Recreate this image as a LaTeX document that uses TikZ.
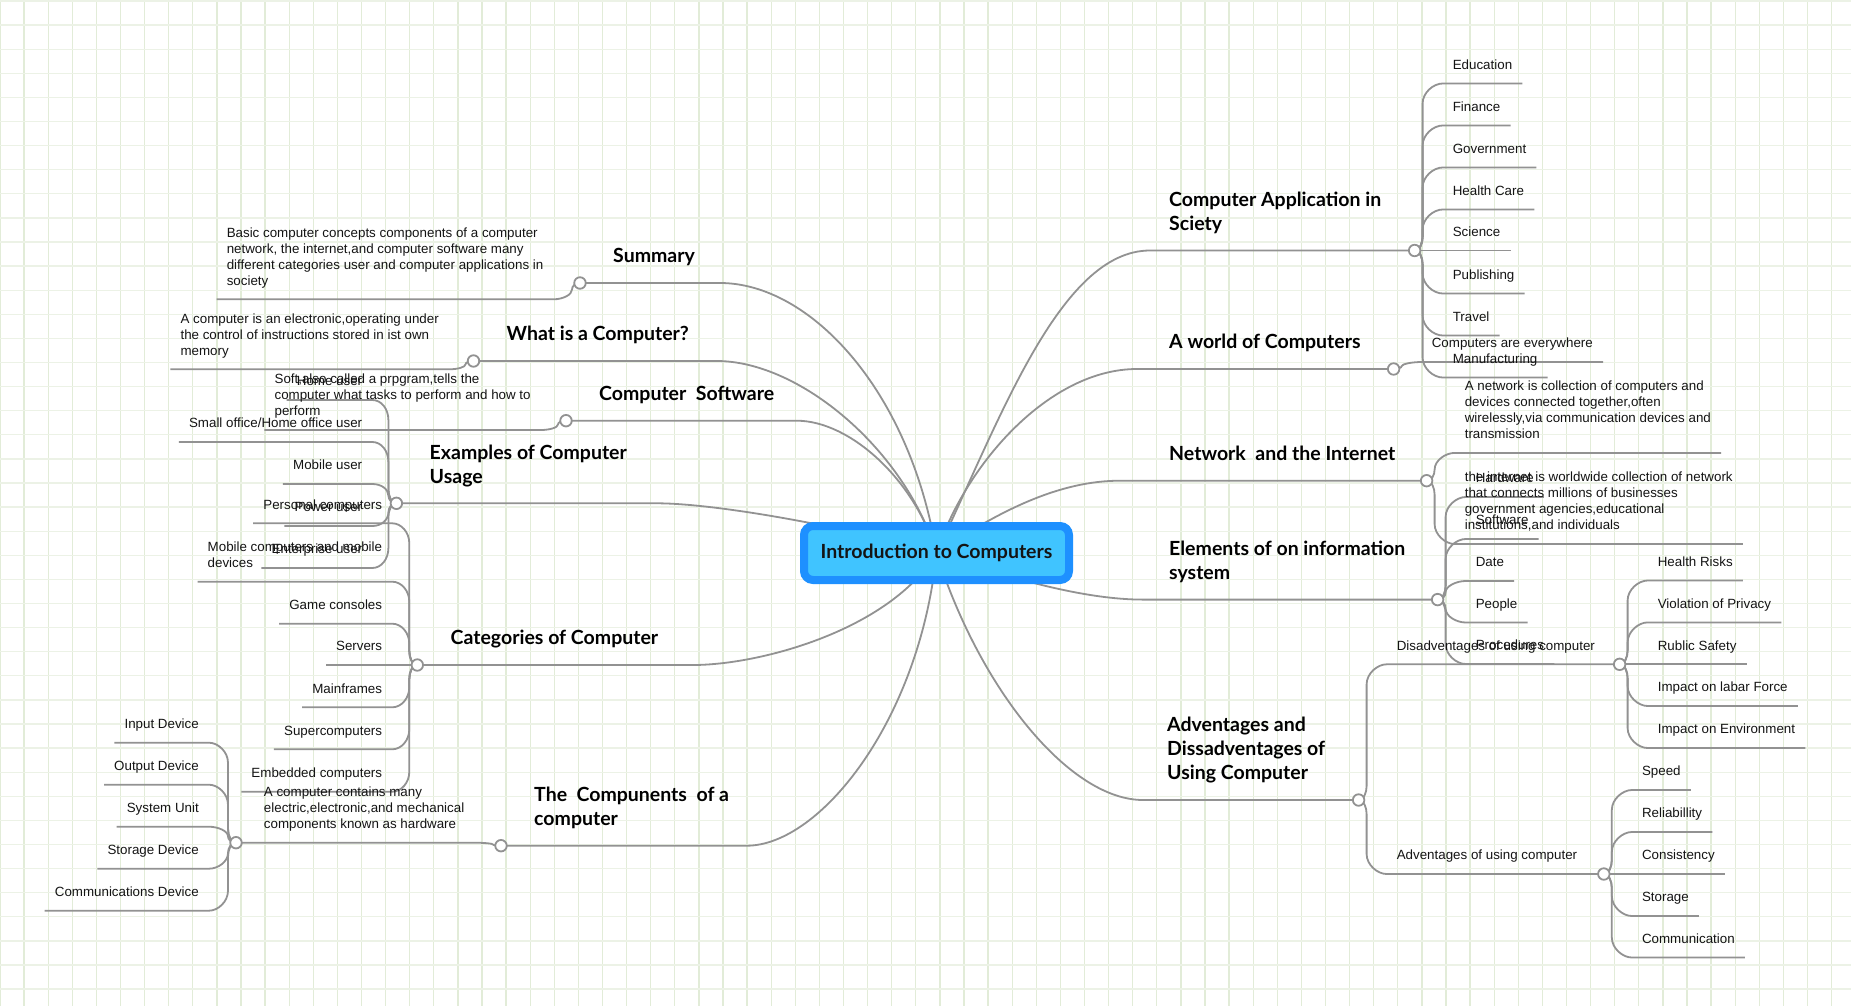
\documentclass[tikz,border=0pt]{standalone}
\usepackage{fontspec}
\setmainfont{Liberation Sans}
\newfontfamily\latofont{Lato}
\usetikzlibrary{calc}
\definecolor{LinkGray}{RGB}{146,146,146}
\definecolor{RootBorder}{RGB}{30,144,255}
\definecolor{RootFill}{RGB}{64,196,255}
\definecolor{GridV}{RGB}{226,236,216}
\definecolor{GridH}{RGB}{236,242,230}
\definecolor{TextDark}{RGB}{20,20,20}
\newcommand\leaffont{\fontsize{13.35}{16}\selectfont}
\newcommand\topicfont{\latofont\bfseries\fontsize{19.5}{24}\selectfont}
\pgfdeclarelayer{grid}
\pgfdeclarelayer{edges}
\pgfsetlayers{grid,edges,main}
\tikzset{
  gridv/.style={draw=GridV, line width=1.3pt},
  gridh/.style={draw=GridH, line width=1.3pt},
  link/.style={draw=LinkGray, line width=1.8pt},
  rootbox/.style={draw=RootBorder, fill=RootFill, line width=8pt, rounded corners=9pt,
                  minimum width=265pt, minimum height=54pt, font=\latofont\bfseries\fontsize{19.5}{24}\selectfont,
                  text=TextDark},
  topic/.style={font=\topicfont, text=black, align=left, anchor=south west,
                inner xsep=0pt, inner ysep=12.8pt, execute at end node=\strut},
  leaf/.style={font=\leaffont, text=TextDark, align=left,
               inner xsep=10pt, inner ysep=9.2pt, execute at end node=\strut},
  dot/.style={circle, draw=LinkGray, fill=white, line width=1.8pt, minimum size=11.5pt, inner sep=0pt},
  % elbow from a knot to the near end of an underline: short bend, trunk, rounded corner
  branch/.style={to path={
    let \p1=(\tikztostart), \p2=(\tikztotarget),
        \n1={ifthenelse((\y2)>(\y1),1,-1)},
        \n2={ifthenelse((\x2)>(\x1),1,-1)},
        \n3={min(14,0.4*abs((\y2)-(\y1)))},
        \n4={min(20,0.6*abs((\y2)-(\y1)))}
    in .. controls ({\x1+\n2*5},\y1) and ({\x1+\n2*8},{\y1+\n1*\n3*0.5}) .. ({\x1+\n2*8},{\y1+\n1*\n3})
       -- ({\x1+\n2*8},{\y2-\n1*\n4})
       .. controls ({\x1+\n2*8},{\y2-\n1*\n4*0.45}) and ({\x2-\n2*9},\y2) .. (\x2,\y2) \tikztonodes}},
}

\begin{document}
\begin{tikzpicture}[x=1pt, y=-1pt]

  % --- page and grid ----------------------------------------------------------
  \useasboundingbox (0,0) rectangle (1851,1006);
  \begin{pgfonlayer}{grid}
    \fill[white] (0,0) rectangle (1851,1006);
    \foreach \gx in {0,24.1,...,1851} \draw[gridv] (\gx,0) -- (\gx,1006);
    \foreach \gy in {1,25.1,...,1006} \draw[gridh] (0,\gy) -- (1851,\gy);
  \end{pgfonlayer}

  \node[rootbox] (root) at (936.5,553) {Introduction to Computers};

  % --- main topics, right side --------------------------------------------------
  \node[topic] (app)   at (1169,250.5) {Computer Application in\\Sciety};
  \node[topic] (world) at (1169,369)   {A world of Computers};
  \node[topic] (net)   at (1169,480.7) {Network\ \ and the Internet};
  \node[topic] (elem)  at (1169,599.6) {Elements of on information\\system};
  \node[topic] (adv)   at (1167,800)   {Adventages and\\Dissadventages of\\Using Computer};
  \node[dot] (appdot)   at (1414.6,250.5) {};
  \node[dot] (worlddot) at (1393.6,369) {};
  \node[dot] (netdot)   at (1426.6,480.7) {};
  \node[dot] (elemdot)  at (1437.6,599.6) {};
  \node[dot] (advdot)   at (1358.6,800) {};

  % --- main topics, left side ---------------------------------------------------
  \node[topic] (sum)   at (613,283)   {Summary};
  \node[topic] (what)  at (506.5,361) {What is a Computer?};
  \node[topic] (soft)  at (599,420.7) {Computer\ \ Software};
  \node[topic] (examp) at (429.5,503.3) {Examples of Computer\\Usage};
  \node[topic] (cat)   at (450.5,665) {Categories of Computer};
  \node[topic] (comp)  at (534,845.7) {The\ \ Compunents\ \ of a\\computer};
  \node[dot] (sumdot)   at (580,283) {};
  \node[dot] (whatdot)  at (473.5,361) {};
  \node[dot] (softdot)  at (566,420.7) {};
  \node[dot] (exampdot) at (396.4,503.3) {};
  \node[dot] (catdot)   at (417.3,665) {};
  \node[dot] (compdot)  at (501,845.7) {};

  \begin{pgfonlayer}{edges}
    \draw[link] (root.center) .. controls +(63.5,-133) and +(-90,0) .. (1150,250.5) -- (appdot.center);
    \draw[link] (root.center) .. controls +(29.5,-90) and +(-87,0) .. (1137,369) -- (worlddot.center);
    \draw[link] (root.center) .. controls +(63.5,-43) and +(-60,0) .. (1120,480.7) -- (netdot.center);
    \draw[link] (root.center) .. controls +(63.5,22) and +(-63,0) .. (1143,599.6) -- (elemdot.center);
    \draw[link] (root.center) .. controls +(43.5,137) and +(-73,0) .. (1143,800) -- (advdot.center);
    \draw[link] (root.center) .. controls +(-26.5,-163) and +(90,0) .. (720,283) -- (sumdot.center);
    \draw[link] (root.center) .. controls +(-31.5,-103) and +(83.3,0) .. (716.7,361) -- (whatdot.center);
    \draw[link] (root.center) .. controls +(-21.5,-73) and +(53.3,0) .. (796.7,420.7) -- (softdot.center);
    \draw[link] (root.center) .. controls +(-76.5,-23) and +(63.3,0) .. (656.7,503.3) -- (exampdot.center);
    \draw[link] (root.center) .. controls +(-46.5,77) and +(67,0) .. (693,665) -- (catdot.center);
    \draw[link] (root.center) .. controls +(-16.5,167) and +(73.3,0) .. (746.7,845.7) -- (compdot.center);
  \end{pgfonlayer}

  % --- Computer Application in Sciety -------------------------------------------
  \foreach \nm/\ly/\txt in {edu/83.5/Education, fin/125.5/Finance, gov/167.5/Government,
      hcare/209.5/Health Care, sci/250.5/Science, pub/293.5/Publishing, trav/335.5/Travel,
      manu/377.5/Manufacturing}{
    \node[leaf, anchor=south west] (\nm) at (1442.6,\ly) {\txt};
    \begin{pgfonlayer}{edges}
      \draw[link] (appdot.center) to[branch] (\nm.south west) -- (\nm.south east);
    \end{pgfonlayer}
  }

  % --- A world of Computers / Network and the Internet --------------------------
  \node[leaf, anchor=south west] (every) at (1421.6,362) {Computers are everywhere};
  \node[leaf, anchor=south west] (netdef) at (1454.6,452.9)
    {A network is collection of computers and\\devices connected together,often\\wirelessly,via communication devices and\\transmission};
  \node[leaf, anchor=south west] (inetdef) at (1454.6,544)
    {the internet is worldwide collection of network\\that connects millions of businesses\\government agencies,educational\\institutions,and individuals};
  \begin{pgfonlayer}{edges}
    \draw[link] (worlddot.center) to[branch] (every.south west) -- (every.south east);
    \draw[link] (netdot.center) to[branch] (netdef.south west) -- (netdef.south east);
    \draw[link] (netdot.center) to[branch] (inetdef.south west) -- (inetdef.south east);
  \end{pgfonlayer}

  % --- Elements of on information system ----------------------------------------
  \foreach \nm/\ly/\txt in {hw/497/Hardware, sw/539/Software, date/581/Date,
      ppl/622.5/People, proc/664/Procedures}{
    \node[leaf, anchor=south west] (\nm) at (1465.6,\ly) {\txt};
    \begin{pgfonlayer}{edges}
      \draw[link] (elemdot.center) to[branch] (\nm.south west) -- (\nm.south east);
    \end{pgfonlayer}
  }

  % --- Adventages and Dissadventages ---------------------------------------------
  \node[leaf, anchor=south west] (dis) at (1386.6,664.3) {Disadventages of using computer};
  \node[leaf, anchor=south west] (pro) at (1386.6,874) {Adventages of using computer};
  \node[dot] (disdot) at (1619.6,664.3) {};
  \node[dot] (prodot) at (1603.8,874) {};
  \begin{pgfonlayer}{edges}
    \draw[link] (advdot.center) to[branch] (dis.south west) -- (disdot.center);
    \draw[link] (advdot.center) to[branch] (pro.south west) -- (prodot.center);
  \end{pgfonlayer}
  \foreach \nm/\ly/\txt in {risk/580.5/Health Risks, priv/622.4/Violation of Privacy,
      safe/664.3/Rublic Safety, labor/706/Impact on labar Force, envir/748/Impact on Environment}{
    \node[leaf, anchor=south west] (\nm) at (1647.6,\ly) {\txt};
    \begin{pgfonlayer}{edges}
      \draw[link] (disdot.center) to[branch] (\nm.south west) -- (\nm.south east);
    \end{pgfonlayer}
  }
  \foreach \nm/\ly/\txt in {speed/790/Speed, rely/832/Reliabillity, cons/874/Consistency,
      stor/916/Storage, commu/957.5/Communication}{
    \node[leaf, anchor=south west] (\nm) at (1631.8,\ly) {\txt};
    \begin{pgfonlayer}{edges}
      \draw[link] (prodot.center) to[branch] (\nm.south west) -- (\nm.south east);
    \end{pgfonlayer}
  }

  % --- Summary / What is a Computer? / Computer Software -------------------------
  \node[leaf, anchor=south east] (sumtxt) at (553.6,299.3)
    {Basic computer concepts components of a computer\\network, the internet,and computer software many\\different categories user and computer applications in\\society};
  \node[leaf, anchor=south east] (whattxt) at (449,369.3)
    {A computer is an electronic,operating under\\the control of instructions stored in ist own\\memory};
  \node[leaf, anchor=south east] (softtxt) at (540.8,430)
    {Soft,also called a prpgram,tells the\\computer what tasks to perform and how to\\perform};
  \begin{pgfonlayer}{edges}
    \draw[link] (sumdot.center) to[branch] (sumtxt.south east) -- (sumtxt.south west);
    \draw[link] (whatdot.center) to[branch] (whattxt.south east) -- (whattxt.south west);
    \draw[link] (softdot.center) to[branch] (softtxt.south east) -- (softtxt.south west);
  \end{pgfonlayer}

  % --- Examples of Computer Usage ---------------------------------------------------
  \foreach \nm/\ly/\txt in {home/400/Home user, soho/442/{Small office/Home office user},
      mobu/484/Mobile user, power/526/Power user, enter/568/Enterprise user}{
    \node[leaf, anchor=south east] (\nm) at (372.4,\ly) {\txt};
    \begin{pgfonlayer}{edges}
      \draw[link] (exampdot.center) to[branch] (\nm.south east) -- (\nm.south west);
    \end{pgfonlayer}
  }

  % --- Categories of Computer ------------------------------------------------------
  \node[leaf, anchor=south east] (mobc) at (392.3,581.7) {Mobile computers and mobile\\devices};
  \begin{pgfonlayer}{edges}
    \draw[link] (catdot.center) to[branch] (mobc.south east) -- (mobc.south west);
  \end{pgfonlayer}
  \foreach \nm/\ly/\txt in {pc/523.3/Personal computers, game/623.7/Game consoles,
      serv/665/Servers, mainf/707.3/Mainframes, super/749.3/Supercomputers,
      embed/791.7/Embedded computers}{
    \node[leaf, anchor=south east] (\nm) at (392.3,\ly) {\txt};
    \begin{pgfonlayer}{edges}
      \draw[link] (catdot.center) to[branch] (\nm.south east) -- (\nm.south west);
    \end{pgfonlayer}
  }

  % --- The Compunents of a computer --------------------------------------------------
  \node[leaf, anchor=south east] (hwtxt) at (474.5,842.7)
    {A computer contains many\\electric,electronic,and mechanical\\components known as hardware};
  \node[dot] (hwdot) at (236,842.7) {};
  \begin{pgfonlayer}{edges}
    \draw[link] (compdot.center) to[branch] (hwtxt.south east) -- (hwdot.center);
  \end{pgfonlayer}
  \foreach \nm/\ly/\txt in {indev/742.7/Input Device, outdev/784.7/Output Device,
      sysu/826.7/System Unit, stdev/868.7/Storage Device, comdev/910.7/Communications Device}{
    \node[leaf, anchor=south east] (\nm) at (209,\ly) {\txt};
    \begin{pgfonlayer}{edges}
      \draw[link] (hwdot.center) to[branch] (\nm.south east) -- (\nm.south west);
    \end{pgfonlayer}
  }

\end{tikzpicture}
\end{document}
